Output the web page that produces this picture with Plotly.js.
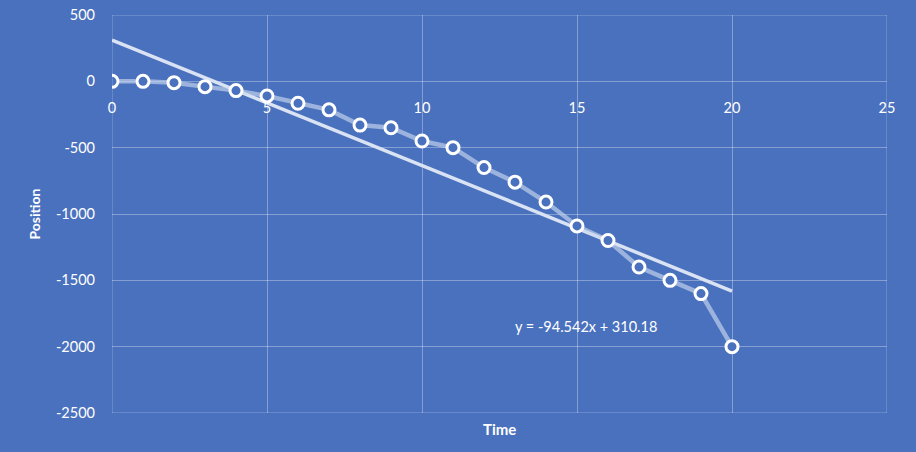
<!DOCTYPE html>
<html>
<head>
<meta charset="utf-8">
<script src="https://cdn.plot.ly/plotly-3.0.1.min.js"></script>
<style>html,body{margin:0;padding:0;background:#4a71be;}#chart{width:916px;height:452px;}</style>
</head>
<body>
<div id="chart"></div>
<script>
const time = [0,1,2,3,4,5,6,7,8,9,10,11,12,13,14,15,16,17,18,19,20];
const position = [0,0,-10,-40,-70,-110,-165,-215,-330,-350,-450,-500,-650,-760,-910,-1090,-1200,-1400,-1500,-1600,-2000];
const trendSlope = -94.542;
const trendIntercept = 310.18;
const trendLabel = 'y = -94.542x + 310.18';
const xTicks = [0,5,10,15,20,25];
const yTicks = [500,0,-500,-1000,-1500,-2000,-2500];

const tx = [time[0], time[time.length-1]];
const ty = tx.map(v => trendSlope*v + trendIntercept);

const bg = '#4a71be';
const grid = 'rgba(255,255,255,0.33)';
const font = {family: 'Lato, Carlito, "Liberation Sans", sans-serif', color: '#ffffff'};

const traces = [
  {x: tx, y: ty, mode: 'lines', line: {color: '#dae3f3', width: 3.5}, hoverinfo: 'skip', showlegend: false},
  {x: time, y: position, mode: 'lines+markers',
   line: {color: 'rgba(200,215,240,0.65)', width: 4.5},
   marker: {size: 12, color: bg, line: {color: '#ffffff', width: 3}},
   showlegend: false}
];

const layout = {
  width: 916, height: 452,
  paper_bgcolor: bg, plot_bgcolor: bg,
  margin: {l: 112, r: 29, t: 15, b: 39},
  font: Object.assign({size: 14}, font),
  xaxis: {range: [0, 25], tickvals: xTicks, ticktext: xTicks.map(String),
    anchor: 'free', position: 2500/3000,
    showgrid: true, gridcolor: grid, gridwidth: 1,
    zeroline: false, showline: false, ticks: '', ticklabelstandoff: 16,
    tickfont: Object.assign({size: 14.5}, font)},
  yaxis: {range: [-2500, 500], tickvals: yTicks, ticktext: yTicks.map(String),
    showgrid: true, gridcolor: grid, gridwidth: 1,
    zeroline: false, showline: false, ticks: '', ticklabelstandoff: 16,
    tickfont: Object.assign({size: 14.5}, font),
    title: {text: '<b>Position</b>', font: Object.assign({size: 14}, font), standoff: 12}},
  shapes: [
    {type: 'line', xref: 'x', yref: 'y', x0: 0, x1: 25, y0: 500, y1: 500, line: {color: grid, width: 1}},
    {type: 'line', xref: 'x', yref: 'y', x0: 0, x1: 25, y0: -2500, y1: -2500, line: {color: grid, width: 1}},
    {type: 'line', xref: 'x', yref: 'y', x0: 0, x1: 0, y0: -2500, y1: 500, line: {color: grid, width: 1}},
    {type: 'line', xref: 'x', yref: 'y', x0: 25, x1: 25, y0: -2500, y1: 500, line: {color: grid, width: 1}}
  ],
  annotations: [
    {text: '<b>Time</b>', xref: 'paper', yref: 'paper', x: 0.5, y: 0, yshift: -16, yanchor: 'middle',
     showarrow: false, font: Object.assign({size: 15}, font)},
    {text: trendLabel, xref: 'x', yref: 'y', x: 15.3, y: -1850, xanchor: 'center', yanchor: 'middle',
     showarrow: false, font: Object.assign({size: 14.5}, font)}
  ]
};

Plotly.newPlot('chart', traces, layout, {displayModeBar: false, staticPlot: true});
</script>
</body>
</html>
